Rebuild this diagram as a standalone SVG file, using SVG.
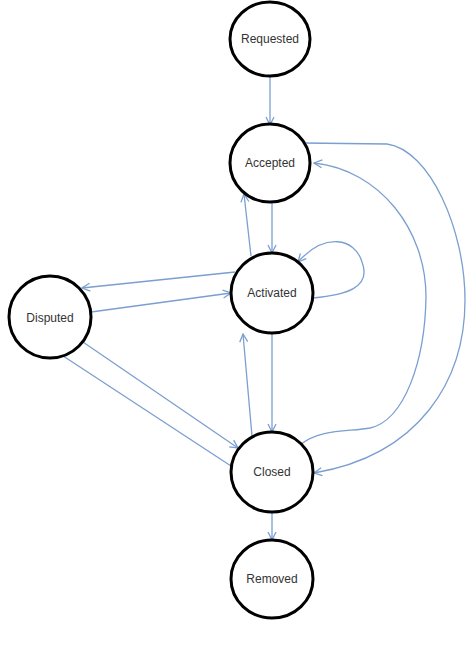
<svg xmlns="http://www.w3.org/2000/svg" width="474" height="649" viewBox="0 0 474 649">
<style>
.node ellipse{fill:#fff;stroke:#000;stroke-width:3}
.node text{font-family:"Liberation Sans",Arial,sans-serif;font-size:12px;fill:#333;text-anchor:middle;dominant-baseline:central}
.edge{fill:none;stroke:#7b9fcf;stroke-width:1.3;marker-end:url(#arr)}
</style>
<defs>
<marker id="arr" viewBox="0 0 10 10" refX="9" refY="5" markerWidth="10" markerHeight="10" markerUnits="userSpaceOnUse" orient="auto">
<path d="M1,1 L9,5 L1,9" fill="none" stroke="#7b9fcf" stroke-width="1.3"/>
</marker>
</defs>
<rect width="474" height="649" fill="#fff"/>
<g id="connectors">
<path class="edge" d="M270,77 L270,125"/>
<path class="edge" d="M272,202 L272,253"/>
<path class="edge" d="M251,256 L244,194"/>
<path class="edge" d="M313,298 C345,295 372,288 362,262 C355,238 325,232 298,262"/>
<path class="edge" d="M235,272 L82,288"/>
<path class="edge" d="M91,312 L231,293"/>
<path class="edge" d="M80,340 L238,448"/>
<path class="edge" d="M231,466 L54,350"/>
<path class="edge" d="M252,436 L243,334"/>
<path class="edge" d="M272,333 L272,432"/>
<path class="edge" d="M272,512 L272,540"/>
<path class="edge" d="M303,143 L387,144 C430,150 465,230 465,300 C465,380 420,455 314,473"/>
<path class="edge" d="M300,445 C320,428 350,432 370,428 C405,420 425,360 426,297 C426,230 380,170 314,163"/>
</g>
<g id="requested" class="node"><ellipse cx="270" cy="39" rx="40" ry="37"/><text x="270" y="39">Requested</text></g>
<g id="accepted" class="node"><ellipse cx="270" cy="163" rx="40" ry="39"/><text x="270" y="163">Accepted</text></g>
<g id="activated" class="node"><ellipse cx="272" cy="293" rx="41" ry="40"/><text x="272" y="293">Activated</text></g>
<g id="disputed" class="node"><ellipse cx="50" cy="317" rx="41" ry="41"/><text x="50" y="318">Disputed</text></g>
<g id="closed" class="node"><ellipse cx="272" cy="472" rx="41" ry="40"/><text x="272" y="472">Closed</text></g>
<g id="removed" class="node"><ellipse cx="272" cy="579" rx="41" ry="39"/><text x="272" y="579">Removed</text></g>
</svg>
